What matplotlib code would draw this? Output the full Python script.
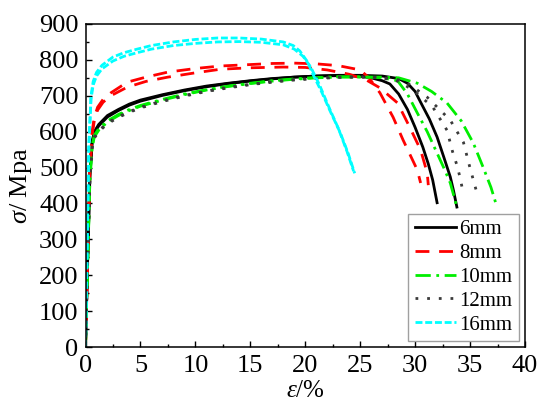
import matplotlib
matplotlib.use('Agg')
import matplotlib.pyplot as plt

plt.rcParams['font.family'] = 'Liberation Serif'
plt.rcParams['mathtext.fontset'] = 'custom'
plt.rcParams['mathtext.rm'] = 'Liberation Serif'
plt.rcParams['mathtext.it'] = 'Liberation Serif:italic'

# two specimens per bar diameter, strain (%) / stress (MPa)
eps_6a = [0, 0.2, 0.4, 0.6, 0.8, 1.2, 2, 3, 4, 5, 7, 9, 11, 13, 15, 17, 19, 21, 23, 25, 26, 27, 27.7, 28.5, 29.3, 30, 30.7, 31.2, 31.6, 32]
sig_6a = [0, 250, 480, 572, 600, 620, 645, 662, 677, 688, 703, 716, 727, 735, 742, 748, 752, 755, 756, 754, 750, 742, 733, 705, 662, 612, 557, 510, 465, 402]
eps_6b = [0, 0.2, 0.4, 0.6, 0.8, 1.2, 2, 3, 4, 5, 7, 9, 11, 13, 15, 17, 19, 21, 23, 25, 27, 28.5, 29.3, 30, 30.5, 31.3, 32, 32.6, 33.2, 33.5, 33.8]
sig_6b = [0, 245, 475, 568, 596, 616, 641, 659, 674, 685, 701, 714, 725, 734, 741, 747, 752, 755, 757, 757, 755, 748, 735, 712, 682, 635, 585, 530, 474, 435, 390]

eps_8a = [0, 0.2, 0.4, 0.6, 0.8, 1.1, 1.6, 2.3, 3.8, 5.5, 7.5, 10, 12.3, 15, 17, 19, 21, 23, 25, 25.8, 26.8, 28, 28.9, 30.2, 30.5]
sig_8a = [0, 260, 500, 600, 640, 668, 690, 708, 738, 752, 766, 776, 783, 787, 790, 791, 789, 784, 772, 750, 708, 640, 577, 493, 457]
eps_8b = [0, 0.2, 0.4, 0.6, 0.8, 1.1, 1.6, 2.3, 3.8, 5.5, 7.5, 10, 12.3, 15, 18, 20, 22, 24, 25.5, 26.8, 28.4, 29.5, 30.5, 31.1, 31.2]
sig_8b = [0, 255, 490, 590, 630, 660, 682, 700, 724, 740, 752, 764, 774, 778, 780, 779, 772, 760, 745, 722, 680, 613, 549, 485, 451]

eps_10a = [0, 0.2, 0.4, 0.6, 0.8, 1.2, 2, 3, 4, 5, 7, 9, 11, 13, 15, 17, 19, 21, 23, 25, 27, 28.4, 29.3, 30.2, 31.1, 32, 32.6, 33.2, 33.8]
sig_10a = [0, 240, 470, 560, 590, 608, 630, 648, 662, 673, 690, 705, 717, 727, 735, 742, 747, 751, 753, 753, 750, 742, 705, 652, 600, 540, 500, 457, 390]
eps_10b = [0, 0.2, 0.4, 0.6, 0.8, 1.2, 2, 3, 4, 5, 7, 9, 11, 13, 15, 17, 19, 21, 23, 25, 27, 28.5, 30.2, 31.5, 32.9, 34.2, 35.3, 36.2, 36.9, 37.4]
sig_10b = [0, 235, 465, 555, 585, 604, 627, 645, 659, 671, 688, 703, 716, 726, 734, 741, 746, 750, 752, 752, 752, 750, 735, 712, 680, 630, 568, 500, 445, 395]

eps_12a = [0, 0.2, 0.4, 0.6, 0.8, 1.2, 2, 3, 4, 5, 7, 9, 11, 13, 15, 17, 19, 21, 23, 25, 27, 28.5, 29.8, 31.6, 32.9, 33.4, 33.8, 34.1, 34.4]
sig_12a = [0, 240, 468, 556, 585, 602, 625, 642, 656, 668, 686, 701, 713, 724, 732, 739, 745, 749, 752, 753, 750, 740, 716, 669, 604, 545, 507, 471, 425]
eps_12b = [0, 0.2, 0.4, 0.6, 0.8, 1.2, 2, 3, 4, 5, 7, 9, 11, 13, 15, 17, 19, 21, 23, 25, 27, 29, 31.1, 33.2, 34.4, 34.9, 35.3, 35.6]
sig_12b = [0, 238, 465, 553, 582, 600, 622, 640, 654, 666, 684, 699, 712, 722, 731, 738, 744, 748, 751, 752, 751, 742, 696, 632, 570, 510, 465, 432]

eps_16a = [0, 0.15, 0.3, 0.5, 0.7, 1, 1.5, 2.5, 3.5, 4.7, 6, 8, 10, 12, 14, 16, 18, 18.9, 19.5, 20.2, 20.7, 21.5, 22.3, 23.2, 23.9, 24.5]
sig_16a = [0, 280, 560, 700, 740, 765, 785, 808, 820, 830, 840, 850, 857, 861, 861, 858, 850, 840, 825, 795, 760, 710, 655, 596, 540, 484]
eps_16b = [0, 0.15, 0.3, 0.5, 0.7, 1, 1.5, 2.5, 3.5, 4.7, 6, 8, 10, 12, 14, 16, 18, 19, 19.8, 20.5, 21.3, 22.2, 23, 23.8, 24.4]
sig_16b = [0, 275, 550, 690, 730, 755, 775, 797, 810, 820, 830, 840, 846, 850, 851, 849, 842, 830, 810, 780, 730, 665, 610, 545, 490]

labels = ['6mm', '8mm', '10mm', '12mm', '16mm']

fig = plt.figure(figsize=(5.5, 4.12), dpi=100)
ax = fig.add_axes([85.5 / 550, 65 / 412, 439.5 / 550, 323 / 412])

lw = 2.0
ax.plot(eps_6a, sig_6a, color='black', lw=lw, label=labels[0])
ax.plot(eps_6b, sig_6b, color='black', lw=lw)
ax.plot(eps_8a, sig_8a, color='red', lw=lw, dashes=(5, 3.5), label=labels[1])
ax.plot(eps_8b, sig_8b, color='red', lw=lw, dashes=(5, 3.5))
ax.plot(eps_10a, sig_10a, color='#00ee00', lw=lw, dashes=(5.5, 2, 1, 2), label=labels[2])
ax.plot(eps_10b, sig_10b, color='#00ee00', lw=lw, dashes=(5.5, 2, 1, 2))
ax.plot(eps_12a, sig_12a, color='#3a3a3a', lw=lw, dashes=(1, 3.2), label=labels[3])
ax.plot(eps_12b, sig_12b, color='#3a3a3a', lw=lw, dashes=(1, 3.2))
ax.plot(eps_16a, sig_16a, color='cyan', lw=lw, dashes=(2.5, 1), label=labels[4])
ax.plot(eps_16b, sig_16b, color='cyan', lw=lw, dashes=(2.5, 1))

ax.set_xlim(0, 40)
ax.set_ylim(0, 900)
ax.set_xticks(range(0, 41, 5))
ax.set_yticks(range(0, 901, 100))
ax.set_xticks([x + 2.5 for x in range(0, 40, 5)], minor=True)
ax.set_yticks([y + 50 for y in range(0, 900, 100)], minor=True)
ax.tick_params(which='both', direction='in', top=False, right=False, labelsize=19)
ax.tick_params(axis='x', pad=6)
ax.tick_params(axis='y', pad=5)
ax.tick_params(which='major', length=4, width=1)
ax.tick_params(which='minor', length=2.5, width=1)
for s in ax.spines.values():
    s.set_linewidth(1.1)

ax.set_xlabel(r'$\varepsilon$/%', fontsize=18, labelpad=2)
ax.set_ylabel(r'$\sigma$/ Mpa', fontsize=19, labelpad=4)

leg = ax.legend(loc='lower right', fontsize=15, handlelength=2.0, labelspacing=0.2,
                handletextpad=0.15, borderpad=0.3, borderaxespad=0.3,
                fancybox=False, edgecolor='#a0a0a0', framealpha=1)
leg.get_frame().set_linewidth(1.0)

fig.savefig('out.png', dpi=100)
